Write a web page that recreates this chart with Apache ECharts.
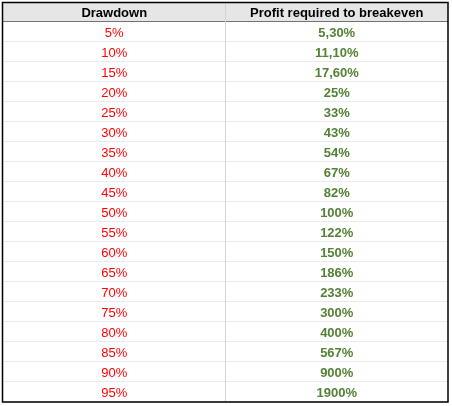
<!DOCTYPE html>
<html><head><meta charset="utf-8">
<script src="https://cdn.jsdelivr.net/npm/echarts@6/dist/echarts.min.js"></script>
<style>html,body{margin:0;padding:0;background:#fff}#c{width:452px;height:406px}</style>
</head><body><div id="c"></div>
<script>
const headers = ['Drawdown', 'Profit required to breakeven'];
const drawdown = ['5%','10%','15%','20%','25%','30%','35%','40%','45%','50%','55%','60%','65%','70%','75%','80%','85%','90%','95%'];
const profit = ['5,30%','11,10%','17,60%','25%','33%','43%','54%','67%','82%','100%','122%','150%','186%','233%','300%','400%','567%','900%','1900%'];

const rows = [headers[0]].concat(drawdown);
const data = rows.map((r, i) => [i]);
const chart = echarts.init(document.getElementById('c'));
const FONT = '"Liberation Sans", Arial, sans-serif';
chart.setOption({
  animation: false,
  grid: {left: 3, right: 4, top: 2, bottom: 4},
  xAxis: {type: 'value', min: 0, max: 2, show: false},
  yAxis: {type: 'category', data: rows, inverse: true, show: false},
  series: [{
    type: 'custom',
    data: data,
    renderItem: function (params, api) {
      const i = api.value(0);
      const p0 = api.coord([0, i]);
      const pm = api.coord([1, i]);
      const p2 = api.coord([2, i]);
      const h = api.size([0, 1])[1];
      const top = p0[1] - h / 2;
      const isHead = i === 0;
      const left = isHead ? headers[0] : drawdown[i - 1];
      const right = isHead ? headers[1] : profit[i - 1];
      const children = [];
      children.push({type: 'rect', shape: {x: p0[0], y: top, width: p2[0] - p0[0], height: h},
        style: {fill: isHead ? '#e7e6e6' : '#fff', stroke: null}});
      children.push({type: 'line', shape: {x1: p0[0], y1: top + h, x2: p2[0], y2: top + h},
        style: {stroke: isHead ? '#000' : '#d4d4d4', lineWidth: 1}});
      children.push({type: 'line', shape: {x1: pm[0], y1: top, x2: pm[0], y2: top + h},
        style: {stroke: '#d4d4d4', lineWidth: 1}});
      children.push({type: 'text', x: (p0[0] + pm[0]) / 2, y: p0[1] + 1,
        style: {text: left, align: 'center', verticalAlign: 'middle', font: (isHead ? 'bold ' : '') + '13px ' + FONT,
          fill: isHead ? '#000' : '#ff0000'}});
      children.push({type: 'text', x: (pm[0] + p2[0]) / 2, y: p0[1] + 1,
        style: {text: right, align: 'center', verticalAlign: 'middle', font: 'bold 13px ' + FONT,
          fill: isHead ? '#000' : '#538135'}});
      return {type: 'group', children: children};
    }
  }],
  graphic: [{type: 'rect', shape: {x: 2.5, y: 2.5, width: 445.5, height: 399.5},
    style: {fill: null, stroke: '#000', lineWidth: 1.5}, z: 100, silent: true}]
});
</script></body></html>
